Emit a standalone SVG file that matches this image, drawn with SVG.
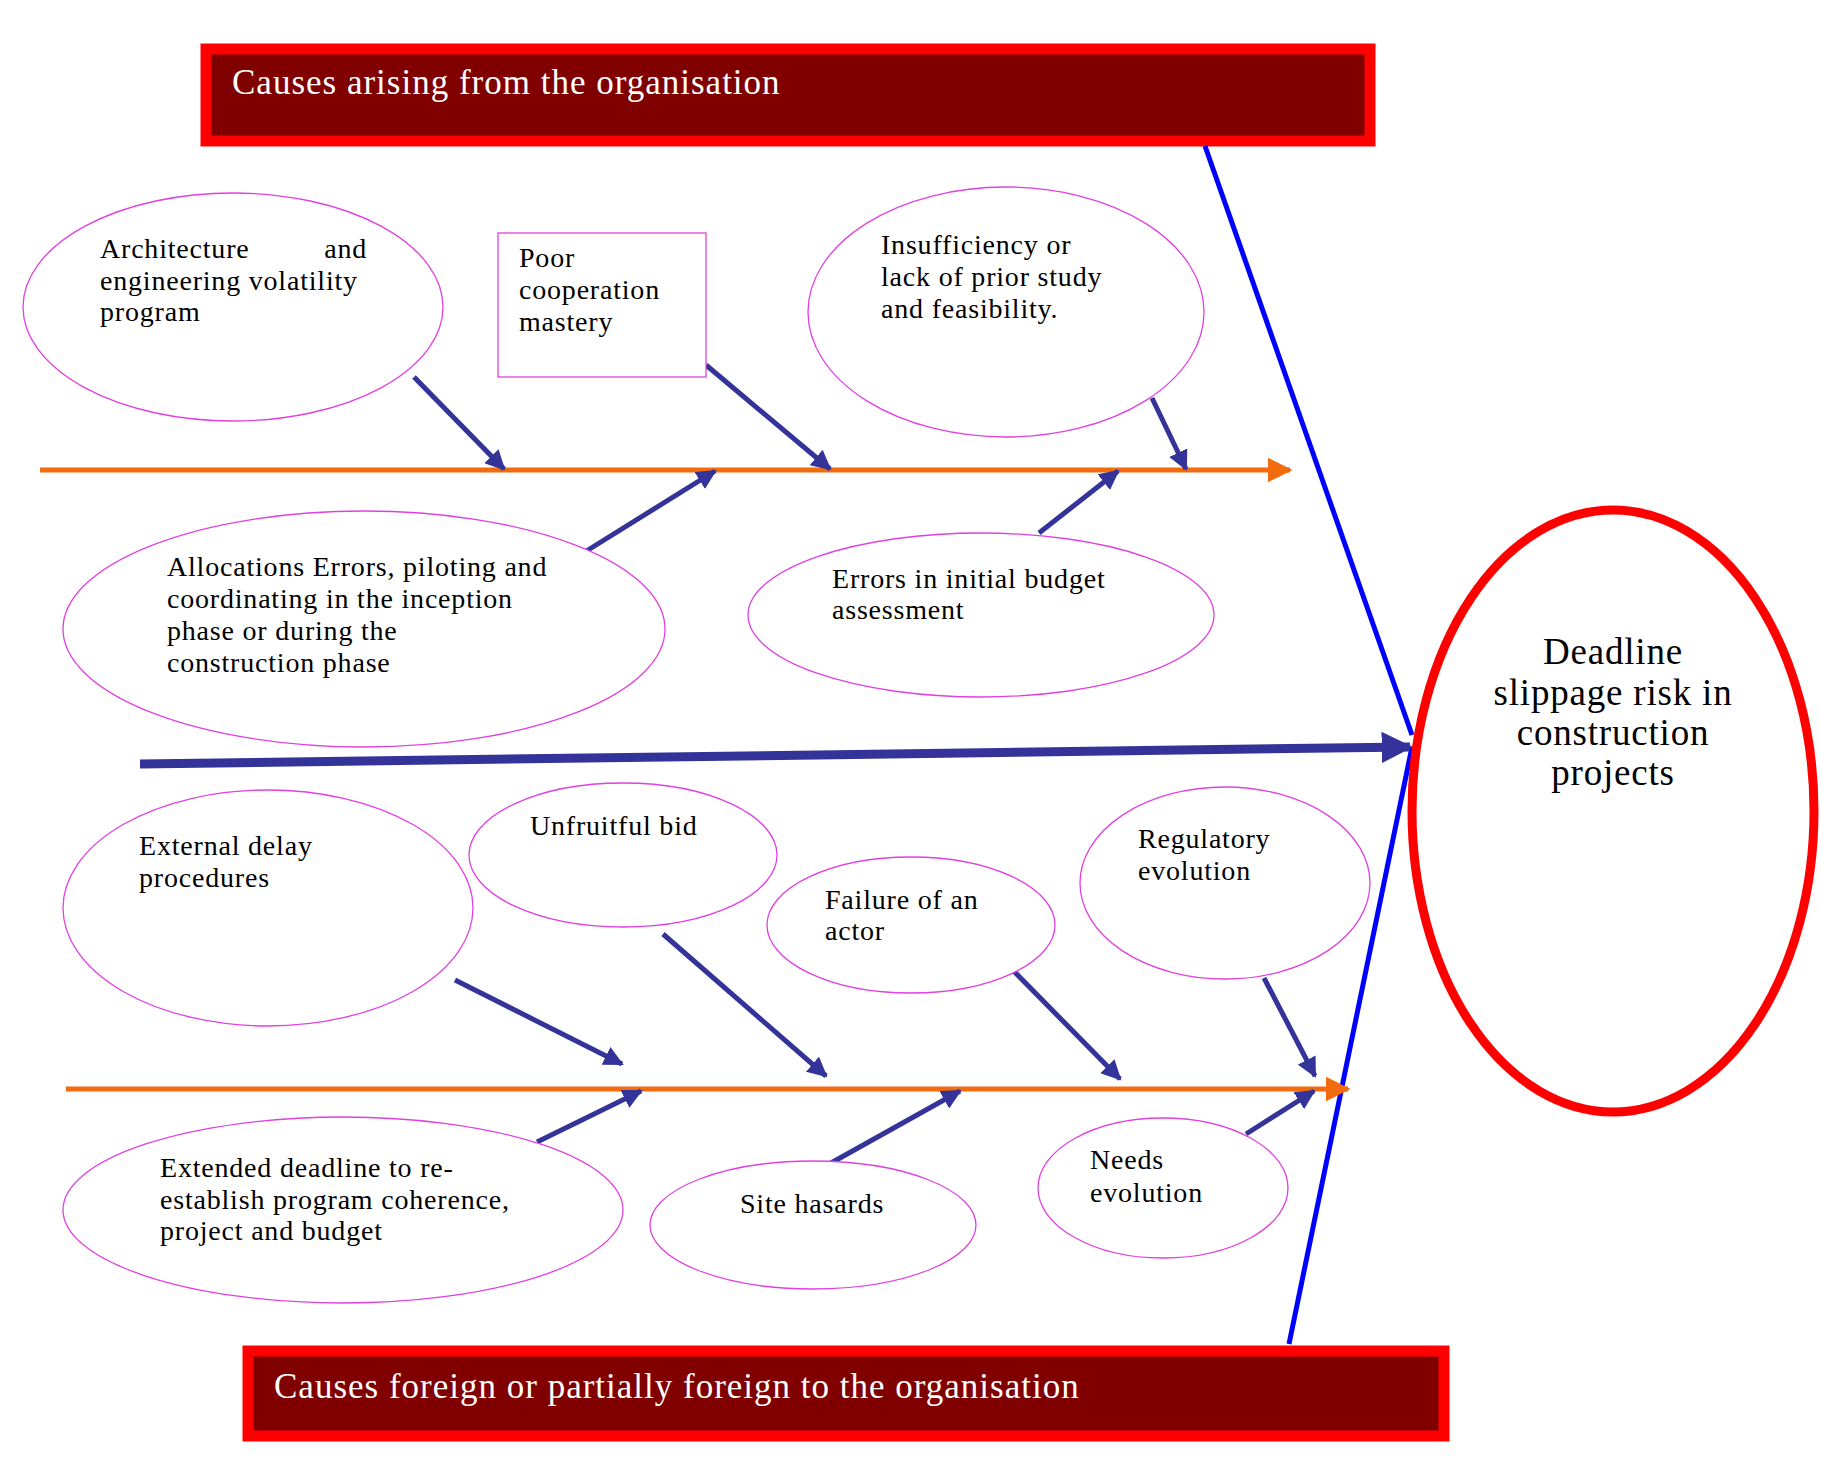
<svg xmlns="http://www.w3.org/2000/svg" width="1821" height="1465" viewBox="0 0 1821 1465">
<defs>
<marker id="nv" viewBox="0 0 10 10" refX="9" refY="5" markerWidth="4" markerHeight="4" orient="auto" markerUnits="strokeWidth"><path d="M0,0 L10,5 L0,10 z" fill="#333399"/></marker>
<marker id="nvb" viewBox="0 0 10 10" refX="9" refY="5" markerWidth="3.5" markerHeight="3.5" orient="auto" markerUnits="strokeWidth"><path d="M0,0 L10,5 L0,10 z" fill="#333399"/></marker>
<marker id="or" viewBox="0 0 10 10" refX="9" refY="5" markerWidth="5" markerHeight="5" orient="auto" markerUnits="strokeWidth"><path d="M0,0 L10,5 L0,10 z" fill="#f26b0f"/></marker>
<style>
.e{fill:#fff;stroke:#e040e0;stroke-width:1.3}
.t{font-family:"Liberation Serif",serif;font-size:28px;letter-spacing:0.8px;fill:#000}
.h{font-family:"Liberation Serif",serif;font-size:35px;letter-spacing:1px;fill:#fff}
.a{stroke:#333399;stroke-width:5;fill:none;marker-end:url(#nv)}
.o{stroke:#f26b0f;stroke-width:5;fill:none;marker-end:url(#or)}
</style>
</defs>
<rect width="1821" height="1465" fill="#fff"/>
<g id="top-box"><rect x="206" y="49" width="1164" height="92" fill="#800000" stroke="#ff0000" stroke-width="11"/><text class="h" x="232" y="94">Causes arising from the organisation</text></g>
<g id="bottom-box"><rect x="248" y="1351" width="1196" height="85" fill="#800000" stroke="#ff0000" stroke-width="11"/><text class="h" x="274" y="1398">Causes foreign or partially foreign to the organisation</text></g>
<g id="connectors">
<line x1="1205" y1="146" x2="1412" y2="735" stroke="#0000ff" stroke-width="5"/>
<line x1="1289" y1="1344" x2="1412" y2="747" stroke="#0000ff" stroke-width="5"/>
<line x1="140" y1="764" x2="1410" y2="747" stroke="#333399" stroke-width="9" marker-end="url(#nvb)"/>
<line class="o" x1="40" y1="470" x2="1290" y2="470"/>
<line class="o" x1="66" y1="1089" x2="1348" y2="1089"/>
<line class="a" x1="414" y1="377" x2="504" y2="469"/>
<line class="a" x1="706" y1="365" x2="830" y2="469"/>
<line class="a" x1="1152" y1="398" x2="1186" y2="469"/>
<line class="a" x1="580" y1="555" x2="715" y2="471"/>
<line class="a" x1="1039" y1="533" x2="1118" y2="471"/>
<line class="a" x1="455" y1="980" x2="622" y2="1064"/>
<line class="a" x1="663" y1="934" x2="826" y2="1076"/>
<line class="a" x1="994" y1="951" x2="1120" y2="1079"/>
<line class="a" x1="1264" y1="978" x2="1315" y2="1076"/>
<line class="a" x1="537" y1="1142" x2="641" y2="1091"/>
<line class="a" x1="831" y1="1163" x2="960" y2="1091"/>
<line class="a" x1="1246" y1="1134" x2="1314" y2="1091"/>
</g>
<g id="effect"><ellipse cx="1613" cy="811" rx="201" ry="301" fill="#fff" stroke="#ff0000" stroke-width="9"/>
<text font-family="Liberation Serif,serif" font-size="37" letter-spacing="0.8" text-anchor="middle" x="1613"><tspan x="1613" y="664">Deadline</tspan><tspan x="1613" y="705">slippage risk in</tspan><tspan x="1613" y="745">construction</tspan><tspan x="1613" y="785">projects</tspan></text></g>
<g id="n1"><ellipse class="e" cx="233" cy="307" rx="210" ry="114"/><text class="t"><tspan x="100" y="258">Architecture</tspan><tspan x="367" y="258" text-anchor="end">and</tspan><tspan x="100" y="290">engineering volatility</tspan><tspan x="100" y="321">program</tspan></text></g>
<g id="n2"><rect class="e" x="498" y="233" width="208" height="144"/><text class="t"><tspan x="519" y="267">Poor</tspan><tspan x="519" y="299">cooperation</tspan><tspan x="519" y="331">mastery</tspan></text></g>
<g id="n3"><ellipse class="e" cx="1006" cy="312" rx="198" ry="125"/><text class="t"><tspan x="881" y="254">Insufficiency or</tspan><tspan x="881" y="286">lack of prior study</tspan><tspan x="881" y="318">and feasibility.</tspan></text></g>
<g id="n4"><ellipse class="e" cx="364" cy="629" rx="301" ry="118"/><text class="t"><tspan x="167" y="576">Allocations Errors, piloting and</tspan><tspan x="167" y="608">coordinating in the inception</tspan><tspan x="167" y="640">phase or during the</tspan><tspan x="167" y="672">construction phase</tspan></text></g>
<g id="n5"><ellipse class="e" cx="981" cy="615" rx="233" ry="82"/><text class="t"><tspan x="832" y="588">Errors in initial budget</tspan><tspan x="832" y="619">assessment</tspan></text></g>
<g id="n6"><ellipse class="e" cx="268" cy="908" rx="205" ry="118"/><text class="t"><tspan x="139" y="855">External delay</tspan><tspan x="139" y="887">procedures</tspan></text></g>
<g id="n7"><ellipse class="e" cx="623" cy="855" rx="154" ry="72"/><text class="t" x="530" y="835">Unfruitful bid</text></g>
<g id="n8"><ellipse class="e" cx="911" cy="925" rx="144" ry="68"/><text class="t"><tspan x="825" y="909">Failure of an</tspan><tspan x="825" y="940">actor</tspan></text></g>
<g id="n9"><ellipse class="e" cx="1225" cy="883" rx="145" ry="96"/><text class="t"><tspan x="1138" y="848">Regulatory</tspan><tspan x="1138" y="880">evolution</tspan></text></g>
<g id="n10"><ellipse class="e" cx="343" cy="1210" rx="280" ry="93"/><text class="t"><tspan x="160" y="1177">Extended deadline to re-</tspan><tspan x="160" y="1209">establish program coherence,</tspan><tspan x="160" y="1240">project and budget</tspan></text></g>
<g id="n11"><ellipse class="e" cx="813" cy="1225" rx="163" ry="64"/><text class="t" x="740" y="1213">Site hasards</text></g>
<g id="n12"><ellipse class="e" cx="1163" cy="1188" rx="125" ry="70"/><text class="t"><tspan x="1090" y="1169">Needs</tspan><tspan x="1090" y="1202">evolution</tspan></text></g>
</svg>
